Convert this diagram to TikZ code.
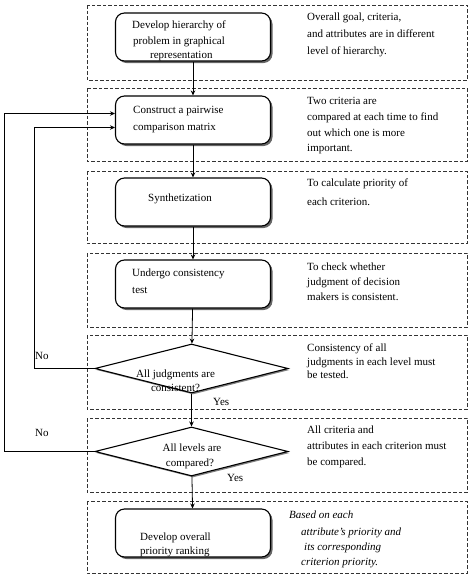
\documentclass[tikz,border=0pt]{standalone}
\usepackage{fontspec}
\setmainfont{Liberation Serif}
\usetikzlibrary{shapes.geometric,shadows,arrows.meta}
\begin{document}
\begin{tikzpicture}[x=1pt,y=-1pt,
  font=\fontsize{11}{16}\selectfont,
  stage/.style={draw=black!80, dash pattern=on 3.5pt off 2pt, line width=1pt},
  stepbox/.style={draw, line width=1.1pt, rounded corners=9pt, minimum width=155pt,
    minimum height=48pt, inner sep=0pt, fill=white,
    drop shadow={shadow xshift=2pt,shadow yshift=-2pt,fill=black!60,opacity=1}},
  decision/.style={draw, diamond, line width=1.1pt, minimum width=193pt,
    minimum height=49pt, inner sep=0pt, aspect=3.9, fill=white,
    drop shadow={shadow xshift=1.5pt,shadow yshift=-1.5pt,fill=black!50,opacity=1}},
  flow/.style={-{Stealth[length=5pt,width=4.5pt]}, line width=0.8pt},
  txt/.style={anchor=base west, inner sep=0pt},
  ctxt/.style={anchor=base, inner sep=0pt},
]
\useasboundingbox (0,0) rectangle (474,579);

% dashed stage frames
\draw[stage] (87,5) rectangle (467,80);
\draw[stage] (87,88) rectangle (467,161);
\draw[stage] (87,171) rectangle (467,243);
\draw[stage] (87,253) rectangle (467,327);
\draw[stage] (87,335) rectangle (467,409);
\draw[stage] (87,418) rectangle (467,492);
\draw[stage] (87,501) rectangle (467,573);

% flow boxes
\node[stepbox] (a) at (193,37) {};
\node[stepbox] (b) at (193,120) {};
\node[stepbox] (c) at (193,202) {};
\node[stepbox] (d) at (193,284) {};
\node[decision] (d1) at (191.5,368.5) {};
\node[decision] (d2) at (191.5,451.5) {};
\node[stepbox] (g) at (193,533) {};

% texts in boxes
\node[txt] (ta1) at (132,28) {Develop hierarchy of};
\node[txt] (ta2) at (133,44) {problem in graphical};
\node[txt] (ta3) at (150,58.5) {representation};
\node[txt] (tb1) at (133,113) {Construct a pairwise};
\node[txt] (tb2) at (133,130) {comparison matrix};
\node[txt] (tc1) at (148,201) {Synthetization};
\node[txt] (td1) at (132,276) {Undergo consistency};
\node[txt] (td2) at (132,293) {test};
\node[ctxt] (te1) at (175.5,377) {All judgments are};
\node[ctxt] (te2) at (175.5,391) {consistent?};
\node[ctxt] (tf1) at (192,451) {All levels are};
\node[ctxt] (tf2) at (190,466) {compared?};
\node[txt] (tg1) at (140,540) {Develop overall};
\node[txt] (tg2) at (140,554) {priority ranking};

% arrows
\draw[flow] (a) -- (b);
\draw[flow] (b) -- (c);
\draw[flow] (c) -- (d);
\draw[flow] (d) -- (d1);
\draw[flow] (d1) -- (d2);
\draw[flow] (d2) -- (g);

% feedback loops
\coordinate (outer) at (4,0);
\coordinate (inner) at (34,0);
\draw[flow] (d2.west) -- (d2.west -| outer) |- ([yshift=6.5pt]b.west);
\draw[flow] (d1.west) -- (d1.west -| inner) |- ([yshift=-7.5pt]b.west);

% yes/no labels
\node[txt] (no1) at (35,359) {No};
\node[txt] (no2) at (35,436) {No};
\node[txt] (yes1) at (213,405) {Yes};
\node[txt] (yes2) at (227,481) {Yes};

% right-hand notes
\node[txt] (n11) at (307,20) {Overall goal, criteria,};
\node[txt] (n12) at (307,37) {and attributes are in different};
\node[txt] (n13) at (307,54) {level of hierarchy.};
\node[txt] (n21) at (307,104) {Two criteria are};
\node[txt] (n22) at (307,120) {compared at each time to find};
\node[txt] (n23) at (307,136) {out which one is more};
\node[txt] (n24) at (307,151) {important.};
\node[txt] (n31) at (307,186) {To calculate priority of};
\node[txt] (n32) at (307,205) {each criterion.};
\node[txt] (n41) at (307,270) {To check whether};
\node[txt] (n42) at (307,285) {judgment of decision};
\node[txt] (n43) at (307,300) {makers is consistent.};
\node[txt] (n51) at (307,351) {Consistency of all};
\node[txt] (n52) at (307,365) {judgments in each level must};
\node[txt] (n53) at (307,378) {be tested.};
\node[txt] (n61) at (307,433) {All criteria and};
\node[txt] (n62) at (307,449) {attributes in each criterion must};
\node[txt] (n63) at (307,465) {be compared.};
\node[txt,font=\fontsize{11}{16}\selectfont\itshape] (n71) at (289,518) {Based on each};
\node[txt,font=\fontsize{11}{16}\selectfont\itshape] (n72) at (301,535) {attribute's priority and};
\node[txt,font=\fontsize{11}{16}\selectfont\itshape] (n73) at (304,550) {its corresponding};
\node[txt,font=\fontsize{11}{16}\selectfont\itshape] (n74) at (301,565) {criterion priority.};
\end{tikzpicture}
\end{document}
